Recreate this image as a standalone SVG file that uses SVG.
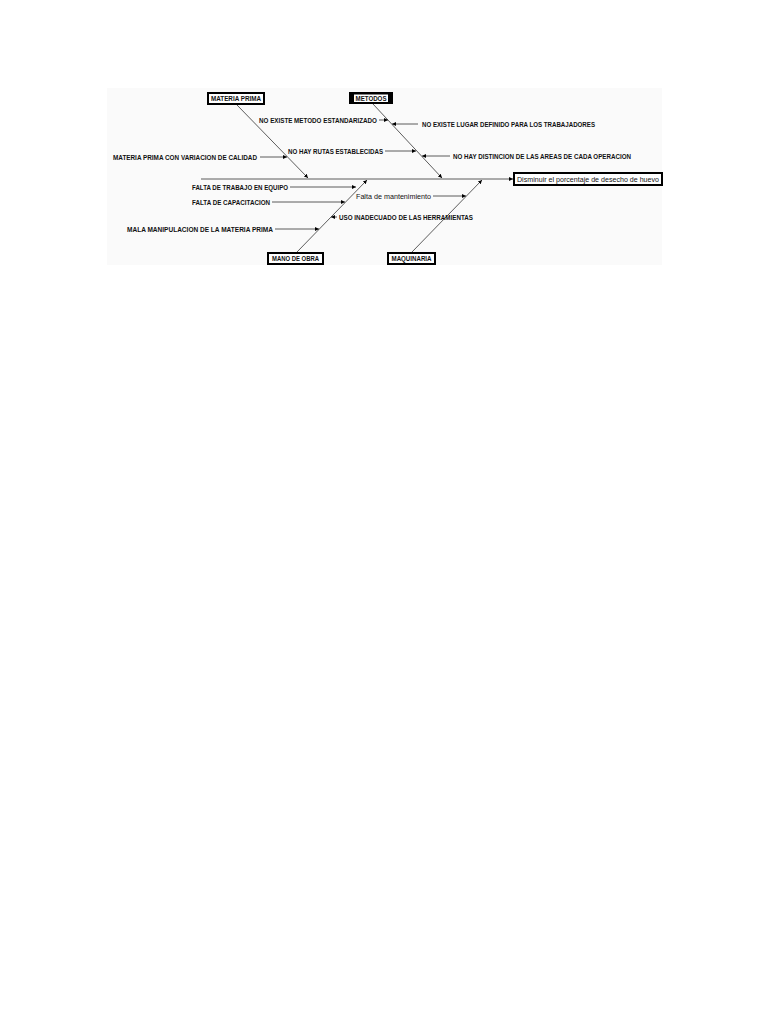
<svg xmlns="http://www.w3.org/2000/svg" width="768" height="1024" viewBox="0 0 768 1024">
<defs>
<marker id="ah" viewBox="0 0 6 6" refX="6" refY="3" markerWidth="4" markerHeight="4" orient="auto" markerUnits="userSpaceOnUse">
<path d="M0,0 L6,3 L0,6 z" fill="#000"/>
</marker>
<style>
.t{font-family:"Liberation Sans",Arial,sans-serif;font-weight:bold;font-size:7px;fill:#111}
.n{font-family:"Liberation Sans",Arial,sans-serif;font-size:7px;fill:#111}
.box{fill:#fff;stroke:#000;stroke-width:2}
.ln{stroke:#333;stroke-width:0.8;fill:none;marker-end:url(#ah)}
</style>
</defs>
<rect width="768" height="1024" fill="#fff"/>
<rect x="107" y="88" width="555" height="177" fill="#fafafa"/>
<g id="connectors">
<line class="ln" x1="201" y1="179" x2="513" y2="179"/>
<line class="ln" x1="237" y1="105" x2="308" y2="178"/>
<line class="ln" x1="373" y1="104" x2="442" y2="178"/>
<line class="ln" x1="297" y1="252" x2="367" y2="180"/>
<line class="ln" x1="412" y1="252" x2="482" y2="180"/>
<line class="ln" x1="379" y1="120" x2="388" y2="120"/>
<line class="ln" x1="418" y1="124" x2="392" y2="124"/>
<line class="ln" x1="385" y1="151" x2="416" y2="151"/>
<line class="ln" x1="450" y1="156" x2="422" y2="156"/>
<line class="ln" x1="260" y1="157" x2="287" y2="157"/>
<line class="ln" x1="290" y1="187" x2="356" y2="187"/>
<line class="ln" x1="272" y1="202" x2="345" y2="202"/>
<line class="ln" x1="275" y1="229" x2="319" y2="229"/>
<line class="ln" x1="337" y1="217" x2="331" y2="217"/>
<line class="ln" x1="433" y1="196" x2="466" y2="196"/>
</g>
<g id="materia-prima">
<rect class="box" x="208" y="93" width="56" height="11"/>
<text class="t" x="236" y="101" text-anchor="middle" textLength="50" lengthAdjust="spacingAndGlyphs">MATERIA PRIMA</text>
</g>
<g id="metodos">
<rect x="349" y="92" width="44" height="12" fill="#000"/>
<rect x="354" y="94.5" width="34" height="7.5" fill="#fff"/>
<text class="t" x="371" y="101" text-anchor="middle" textLength="31" lengthAdjust="spacingAndGlyphs">METODOS</text>
</g>
<g id="mano-de-obra">
<rect class="box" x="268" y="253" width="55" height="11"/>
<text class="t" x="295.5" y="261" text-anchor="middle" textLength="47" lengthAdjust="spacingAndGlyphs">MANO DE OBRA</text>
</g>
<g id="maquinaria">
<rect class="box" x="388" y="253" width="47" height="11"/>
<text class="t" x="411.5" y="261" text-anchor="middle" textLength="40" lengthAdjust="spacingAndGlyphs">MAQUINARIA</text>
</g>
<g id="efecto">
<rect class="box" x="514" y="173" width="148" height="12"/>
<text class="n" x="588" y="181.5" text-anchor="middle" textLength="142" lengthAdjust="spacingAndGlyphs">Disminuir el porcentaje de desecho de huevo</text>
</g>
<g id="causas">
<text class="t" x="259" y="122.5" textLength="118" lengthAdjust="spacingAndGlyphs">NO EXISTE METODO ESTANDARIZADO</text>
<text class="t" x="422" y="126.5" textLength="173" lengthAdjust="spacingAndGlyphs">NO EXISTE LUGAR DEFINIDO PARA LOS TRABAJADORES</text>
<text class="t" x="288" y="153.5" textLength="95" lengthAdjust="spacingAndGlyphs">NO HAY RUTAS ESTABLECIDAS</text>
<text class="t" x="453" y="158.5" textLength="178" lengthAdjust="spacingAndGlyphs">NO HAY DISTINCION DE LAS AREAS DE CADA OPERACION</text>
<text class="t" x="113" y="159.5" textLength="144" lengthAdjust="spacingAndGlyphs">MATERIA PRIMA CON VARIACION DE CALIDAD</text>
<text class="t" x="192" y="189.5" textLength="96" lengthAdjust="spacingAndGlyphs">FALTA DE TRABAJO EN EQUIPO</text>
<text class="t" x="192" y="204.5" textLength="78" lengthAdjust="spacingAndGlyphs">FALTA DE CAPACITACION</text>
<text class="t" x="127" y="231.5" textLength="146" lengthAdjust="spacingAndGlyphs">MALA MANIPULACION DE LA MATERIA PRIMA</text>
<text class="t" x="339" y="219.5" textLength="134" lengthAdjust="spacingAndGlyphs">USO INADECUADO DE LAS HERRAMIENTAS</text>
<text class="n" x="356" y="198.5" textLength="75" lengthAdjust="spacingAndGlyphs">Falta de mantenimiento</text>
</g>
</svg>
